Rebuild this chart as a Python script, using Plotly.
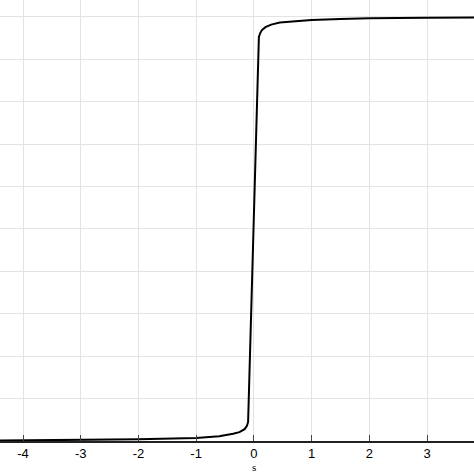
import plotly.graph_objects as go

# curve
s_vals = [-4.4, -4.0, -3.0, -2.0, -1.0, -0.6, -0.36, -0.25, -0.16, -0.12, -0.1,
          0.087, 0.11, 0.14, 0.2, 0.3, 0.45, 0.7, 1.0, 1.5, 2.0, 3.0, 3.82]
f_vals = [0.001, 0.0015, 0.002, 0.004, 0.007, 0.011, 0.017, 0.021, 0.028, 0.036, 0.045,
          0.953, 0.962, 0.969, 0.976, 0.982, 0.987, 0.990, 0.993, 0.995, 0.997, 0.998, 0.999]

x_ticks = [-4, -3, -2, -1, 0, 1, 2, 3]
x_labels = ["-4", "-3", "-2", "-1", "0", "1", "2", "3"]
y_ticks = [0.1, 0.2, 0.3, 0.4, 0.5, 0.6, 0.7, 0.8, 0.9, 1.0]

fig = go.Figure()
fig.add_trace(go.Scatter(x=s_vals, y=f_vals, mode="lines",
                         line=dict(color="black", width=2)))

fig.update_layout(
    width=474, height=474,
    margin=dict(l=0, r=0, t=0, b=33),
    paper_bgcolor="white", plot_bgcolor="white",
    showlegend=False,
    font=dict(family="Liberation Sans, Arial", size=13, color="black"),
)
fig.update_xaxes(
    range=[-4.3985, 3.814], tickvals=x_ticks, ticktext=x_labels,
    ticks="inside", ticklen=6, tickcolor="#444",
    showline=True, linecolor="#222", linewidth=1.5,
    showgrid=True, gridcolor="#e3e3e3", gridwidth=1, zeroline=False,
    automargin=False,
)
fig.update_yaxes(
    range=[0, 1.04], tickvals=y_ticks, showticklabels=False,
    showgrid=True, gridcolor="#e3e3e3", gridwidth=1, zeroline=False,
    showline=False, automargin=False,
)

# axis label "s" sits under the 0 tick in the original
fig.add_annotation(text="s", x=0, xref="x", y=0, yref="paper",
                   yanchor="top", yshift=-18, showarrow=False,
                   font=dict(family="Liberation Serif, Times New Roman", size=11))

fig.write_html("out.html", config={"displayModeBar": False},
               post_script="document.body.style.margin='0';")
